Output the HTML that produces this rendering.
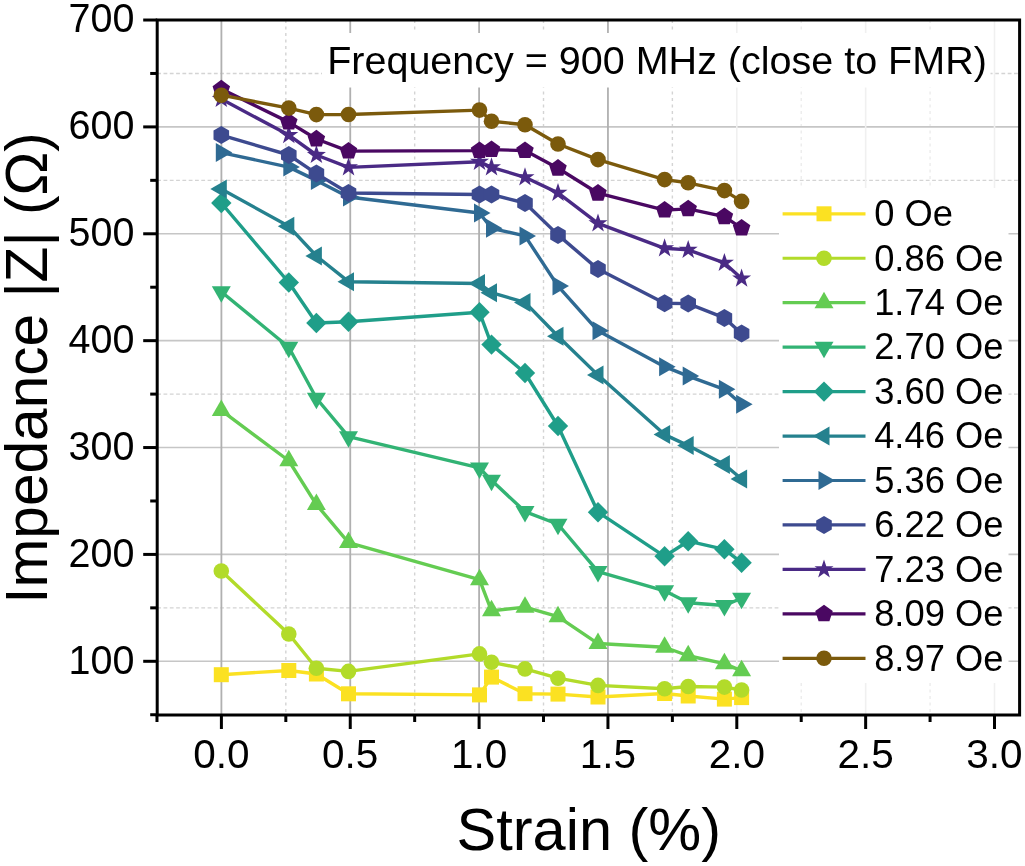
<!DOCTYPE html>
<html><head><meta charset="utf-8"><title>Impedance vs Strain</title>
<style>html,body{margin:0;padding:0;background:#fff;}svg{display:block;will-change:transform;}text{font-family:"Liberation Sans",sans-serif;fill:#000;}</style></head><body>
<svg width="1025" height="866" viewBox="0 0 1025 866">
<rect width="1025" height="866" fill="#fff"/>
<line x1="157.2" y1="73.46" x2="1019.6" y2="73.46" stroke="#d4d4d4" stroke-width="1.4" stroke-dasharray="3.8 2.5"/>
<line x1="157.2" y1="180.34" x2="1019.6" y2="180.34" stroke="#d4d4d4" stroke-width="1.4" stroke-dasharray="3.8 2.5"/>
<line x1="157.2" y1="394.10" x2="1019.6" y2="394.10" stroke="#d4d4d4" stroke-width="1.4" stroke-dasharray="3.8 2.5"/>
<line x1="157.2" y1="607.86" x2="1019.6" y2="607.86" stroke="#d4d4d4" stroke-width="1.4" stroke-dasharray="3.8 2.5"/>
<line x1="285.82" y1="20.0" x2="285.82" y2="715.0" stroke="#d4d4d4" stroke-width="1.4" stroke-dasharray="3 3.5"/>
<line x1="414.67" y1="20.0" x2="414.67" y2="715.0" stroke="#d4d4d4" stroke-width="1.4" stroke-dasharray="3 3.5"/>
<line x1="543.52" y1="20.0" x2="543.52" y2="715.0" stroke="#d4d4d4" stroke-width="1.4" stroke-dasharray="3 3.5"/>
<line x1="672.38" y1="20.0" x2="672.38" y2="715.0" stroke="#d4d4d4" stroke-width="1.4" stroke-dasharray="3 3.5"/>
<line x1="801.22" y1="20.0" x2="801.22" y2="715.0" stroke="#ececec" stroke-width="1.4" stroke-dasharray="3 3.5"/>
<line x1="930.07" y1="20.0" x2="930.07" y2="715.0" stroke="#ececec" stroke-width="1.4" stroke-dasharray="3 3.5"/>
<line x1="157.2" y1="661.30" x2="1019.6" y2="661.30" stroke="#c6c6c6" stroke-width="1.6"/>
<line x1="157.2" y1="554.42" x2="1019.6" y2="554.42" stroke="#c6c6c6" stroke-width="1.6"/>
<line x1="157.2" y1="447.54" x2="1019.6" y2="447.54" stroke="#c6c6c6" stroke-width="1.6"/>
<line x1="157.2" y1="340.66" x2="1019.6" y2="340.66" stroke="#c6c6c6" stroke-width="1.6"/>
<line x1="157.2" y1="233.78" x2="1019.6" y2="233.78" stroke="#c6c6c6" stroke-width="1.6"/>
<line x1="157.2" y1="126.90" x2="1019.6" y2="126.90" stroke="#c6c6c6" stroke-width="1.6"/>
<line x1="221.40" y1="20.0" x2="221.40" y2="715.0" stroke="#b0b0b0" stroke-width="1.8"/>
<line x1="350.25" y1="20.0" x2="350.25" y2="715.0" stroke="#b0b0b0" stroke-width="1.8"/>
<line x1="479.10" y1="20.0" x2="479.10" y2="715.0" stroke="#b0b0b0" stroke-width="1.8"/>
<line x1="607.95" y1="20.0" x2="607.95" y2="715.0" stroke="#b0b0b0" stroke-width="1.8"/>
<line x1="736.80" y1="20.0" x2="736.80" y2="715.0" stroke="#f0f0f0" stroke-width="1.6"/>
<line x1="865.65" y1="20.0" x2="865.65" y2="715.0" stroke="#f0f0f0" stroke-width="1.6"/>
<line x1="994.50" y1="20.0" x2="994.50" y2="715.0" stroke="#f0f0f0" stroke-width="1.6"/>
<rect x="322" y="33" width="668.5" height="54.5" fill="#fff"/>
<text x="327.2" y="73.6" font-size="39.5">Frequency = 900 MHz (close to FMR)</text>
<polyline points="221.30,674.70 288.80,670.50 316.40,674.00 348.50,693.80 479.50,694.90 491.50,677.10 525.00,693.70 558.00,694.10 598.00,697.00 664.60,693.50 688.20,696.00 724.40,699.10 741.60,697.60" fill="none" stroke="#fbe122" stroke-width="3.4" stroke-linejoin="round"/>
<rect x="213.80" y="667.20" width="15.0" height="15.0" fill="#fbe122"/>
<rect x="281.30" y="663.00" width="15.0" height="15.0" fill="#fbe122"/>
<rect x="308.90" y="666.50" width="15.0" height="15.0" fill="#fbe122"/>
<rect x="341.00" y="686.30" width="15.0" height="15.0" fill="#fbe122"/>
<rect x="472.00" y="687.40" width="15.0" height="15.0" fill="#fbe122"/>
<rect x="484.00" y="669.60" width="15.0" height="15.0" fill="#fbe122"/>
<rect x="517.50" y="686.20" width="15.0" height="15.0" fill="#fbe122"/>
<rect x="550.50" y="686.60" width="15.0" height="15.0" fill="#fbe122"/>
<rect x="590.50" y="689.50" width="15.0" height="15.0" fill="#fbe122"/>
<rect x="657.10" y="686.00" width="15.0" height="15.0" fill="#fbe122"/>
<rect x="680.70" y="688.50" width="15.0" height="15.0" fill="#fbe122"/>
<rect x="716.90" y="691.60" width="15.0" height="15.0" fill="#fbe122"/>
<rect x="734.10" y="690.10" width="15.0" height="15.0" fill="#fbe122"/>
<polyline points="221.30,571.00 288.80,634.00 316.40,668.20 348.50,671.40 479.50,653.90 491.50,662.30 525.00,668.90 558.00,678.20 598.00,685.40 664.60,688.70 688.20,686.50 724.40,687.10 741.60,690.00" fill="none" stroke="#b2db2a" stroke-width="3.4" stroke-linejoin="round"/>
<circle cx="221.30" cy="571.00" r="7.8" fill="#b2db2a"/>
<circle cx="288.80" cy="634.00" r="7.8" fill="#b2db2a"/>
<circle cx="316.40" cy="668.20" r="7.8" fill="#b2db2a"/>
<circle cx="348.50" cy="671.40" r="7.8" fill="#b2db2a"/>
<circle cx="479.50" cy="653.90" r="7.8" fill="#b2db2a"/>
<circle cx="491.50" cy="662.30" r="7.8" fill="#b2db2a"/>
<circle cx="525.00" cy="668.90" r="7.8" fill="#b2db2a"/>
<circle cx="558.00" cy="678.20" r="7.8" fill="#b2db2a"/>
<circle cx="598.00" cy="685.40" r="7.8" fill="#b2db2a"/>
<circle cx="664.60" cy="688.70" r="7.8" fill="#b2db2a"/>
<circle cx="688.20" cy="686.50" r="7.8" fill="#b2db2a"/>
<circle cx="724.40" cy="687.10" r="7.8" fill="#b2db2a"/>
<circle cx="741.60" cy="690.00" r="7.8" fill="#b2db2a"/>
<polyline points="221.30,410.45 288.80,460.75 316.40,504.55 348.50,542.55 479.50,579.65 491.50,610.85 525.00,607.15 558.00,616.65 598.00,643.55 664.60,647.25 688.20,655.75 724.40,663.65 741.60,670.85" fill="none" stroke="#64cc52" stroke-width="3.4" stroke-linejoin="round"/>
<polygon points="221.30,399.45 230.80,415.95 211.80,415.95" fill="#64cc52"/>
<polygon points="288.80,449.75 298.30,466.25 279.30,466.25" fill="#64cc52"/>
<polygon points="316.40,493.55 325.90,510.05 306.90,510.05" fill="#64cc52"/>
<polygon points="348.50,531.55 358.00,548.05 339.00,548.05" fill="#64cc52"/>
<polygon points="479.50,568.65 489.00,585.15 470.00,585.15" fill="#64cc52"/>
<polygon points="491.50,599.85 501.00,616.35 482.00,616.35" fill="#64cc52"/>
<polygon points="525.00,596.15 534.50,612.65 515.50,612.65" fill="#64cc52"/>
<polygon points="558.00,605.65 567.50,622.15 548.50,622.15" fill="#64cc52"/>
<polygon points="598.00,632.55 607.50,649.05 588.50,649.05" fill="#64cc52"/>
<polygon points="664.60,636.25 674.10,652.75 655.10,652.75" fill="#64cc52"/>
<polygon points="688.20,644.75 697.70,661.25 678.70,661.25" fill="#64cc52"/>
<polygon points="724.40,652.65 733.90,669.15 714.90,669.15" fill="#64cc52"/>
<polygon points="741.60,659.85 751.10,676.35 732.10,676.35" fill="#64cc52"/>
<polyline points="221.30,291.75 288.80,347.25 316.40,398.25 348.50,436.65 479.50,467.95 491.50,480.35 525.00,511.55 558.00,524.25 598.00,571.55 664.60,590.85 688.20,602.75 724.40,605.55 741.60,598.25" fill="none" stroke="#32b374" stroke-width="3.4" stroke-linejoin="round"/>
<polygon points="221.30,302.75 230.80,286.25 211.80,286.25" fill="#32b374"/>
<polygon points="288.80,358.25 298.30,341.75 279.30,341.75" fill="#32b374"/>
<polygon points="316.40,409.25 325.90,392.75 306.90,392.75" fill="#32b374"/>
<polygon points="348.50,447.65 358.00,431.15 339.00,431.15" fill="#32b374"/>
<polygon points="479.50,478.95 489.00,462.45 470.00,462.45" fill="#32b374"/>
<polygon points="491.50,491.35 501.00,474.85 482.00,474.85" fill="#32b374"/>
<polygon points="525.00,522.55 534.50,506.05 515.50,506.05" fill="#32b374"/>
<polygon points="558.00,535.25 567.50,518.75 548.50,518.75" fill="#32b374"/>
<polygon points="598.00,582.55 607.50,566.05 588.50,566.05" fill="#32b374"/>
<polygon points="664.60,601.85 674.10,585.35 655.10,585.35" fill="#32b374"/>
<polygon points="688.20,613.75 697.70,597.25 678.70,597.25" fill="#32b374"/>
<polygon points="724.40,616.55 733.90,600.05 714.90,600.05" fill="#32b374"/>
<polygon points="741.60,609.25 751.10,592.75 732.10,592.75" fill="#32b374"/>
<polyline points="221.30,203.00 288.80,282.50 316.40,323.00 348.50,321.70 479.50,312.30 491.50,344.60 525.00,373.00 558.00,426.00 598.00,512.20 664.60,556.30 688.20,541.20 724.40,549.30 741.60,562.70" fill="none" stroke="#1f9e89" stroke-width="3.4" stroke-linejoin="round"/>
<polygon points="221.30,192.80 231.50,203.00 221.30,213.20 211.10,203.00" fill="#1f9e89"/>
<polygon points="288.80,272.30 299.00,282.50 288.80,292.70 278.60,282.50" fill="#1f9e89"/>
<polygon points="316.40,312.80 326.60,323.00 316.40,333.20 306.20,323.00" fill="#1f9e89"/>
<polygon points="348.50,311.50 358.70,321.70 348.50,331.90 338.30,321.70" fill="#1f9e89"/>
<polygon points="479.50,302.10 489.70,312.30 479.50,322.50 469.30,312.30" fill="#1f9e89"/>
<polygon points="491.50,334.40 501.70,344.60 491.50,354.80 481.30,344.60" fill="#1f9e89"/>
<polygon points="525.00,362.80 535.20,373.00 525.00,383.20 514.80,373.00" fill="#1f9e89"/>
<polygon points="558.00,415.80 568.20,426.00 558.00,436.20 547.80,426.00" fill="#1f9e89"/>
<polygon points="598.00,502.00 608.20,512.20 598.00,522.40 587.80,512.20" fill="#1f9e89"/>
<polygon points="664.60,546.10 674.80,556.30 664.60,566.50 654.40,556.30" fill="#1f9e89"/>
<polygon points="688.20,531.00 698.40,541.20 688.20,551.40 678.00,541.20" fill="#1f9e89"/>
<polygon points="724.40,539.10 734.60,549.30 724.40,559.50 714.20,549.30" fill="#1f9e89"/>
<polygon points="741.60,552.50 751.80,562.70 741.60,572.90 731.40,562.70" fill="#1f9e89"/>
<polyline points="221.30,189.00 288.80,226.30 316.40,256.00 348.50,281.70 479.50,283.50 491.50,292.70 525.00,302.40 558.00,336.20 598.00,375.10 664.60,434.60 688.20,445.60 724.40,464.50 741.60,479.00" fill="none" stroke="#25818e" stroke-width="3.4" stroke-linejoin="round"/>
<polygon points="210.30,189.00 226.80,179.50 226.80,198.50" fill="#25818e"/>
<polygon points="277.80,226.30 294.30,216.80 294.30,235.80" fill="#25818e"/>
<polygon points="305.40,256.00 321.90,246.50 321.90,265.50" fill="#25818e"/>
<polygon points="337.50,281.70 354.00,272.20 354.00,291.20" fill="#25818e"/>
<polygon points="468.50,283.50 485.00,274.00 485.00,293.00" fill="#25818e"/>
<polygon points="480.50,292.70 497.00,283.20 497.00,302.20" fill="#25818e"/>
<polygon points="514.00,302.40 530.50,292.90 530.50,311.90" fill="#25818e"/>
<polygon points="547.00,336.20 563.50,326.70 563.50,345.70" fill="#25818e"/>
<polygon points="587.00,375.10 603.50,365.60 603.50,384.60" fill="#25818e"/>
<polygon points="653.60,434.60 670.10,425.10 670.10,444.10" fill="#25818e"/>
<polygon points="677.20,445.60 693.70,436.10 693.70,455.10" fill="#25818e"/>
<polygon points="713.40,464.50 729.90,455.00 729.90,474.00" fill="#25818e"/>
<polygon points="730.60,479.00 747.10,469.50 747.10,488.50" fill="#25818e"/>
<polyline points="221.30,152.60 288.80,167.10 316.40,180.40 348.50,197.00 479.50,213.00 491.50,228.30 525.00,235.90 558.00,286.10 598.00,330.80 664.60,366.70 688.20,376.10 724.40,389.30 741.60,404.20" fill="none" stroke="#2f6a93" stroke-width="3.4" stroke-linejoin="round"/>
<polygon points="232.30,152.60 215.80,143.10 215.80,162.10" fill="#2f6a93"/>
<polygon points="299.80,167.10 283.30,157.60 283.30,176.60" fill="#2f6a93"/>
<polygon points="327.40,180.40 310.90,170.90 310.90,189.90" fill="#2f6a93"/>
<polygon points="359.50,197.00 343.00,187.50 343.00,206.50" fill="#2f6a93"/>
<polygon points="490.50,213.00 474.00,203.50 474.00,222.50" fill="#2f6a93"/>
<polygon points="502.50,228.30 486.00,218.80 486.00,237.80" fill="#2f6a93"/>
<polygon points="536.00,235.90 519.50,226.40 519.50,245.40" fill="#2f6a93"/>
<polygon points="569.00,286.10 552.50,276.60 552.50,295.60" fill="#2f6a93"/>
<polygon points="609.00,330.80 592.50,321.30 592.50,340.30" fill="#2f6a93"/>
<polygon points="675.60,366.70 659.10,357.20 659.10,376.20" fill="#2f6a93"/>
<polygon points="699.20,376.10 682.70,366.60 682.70,385.60" fill="#2f6a93"/>
<polygon points="735.40,389.30 718.90,379.80 718.90,398.80" fill="#2f6a93"/>
<polygon points="752.60,404.20 736.10,394.70 736.10,413.70" fill="#2f6a93"/>
<polyline points="221.30,135.10 288.80,155.00 316.40,173.60 348.50,193.00 479.50,194.50 491.50,194.50 525.00,203.00 558.00,234.90 598.00,269.10 664.60,303.30 688.20,303.60 724.40,317.90 741.60,333.60" fill="none" stroke="#3d4a8f" stroke-width="3.4" stroke-linejoin="round"/>
<polygon points="221.30,126.10 229.09,130.60 229.09,139.60 221.30,144.10 213.51,139.60 213.51,130.60" fill="#3d4a8f"/>
<polygon points="288.80,146.00 296.59,150.50 296.59,159.50 288.80,164.00 281.01,159.50 281.01,150.50" fill="#3d4a8f"/>
<polygon points="316.40,164.60 324.19,169.10 324.19,178.10 316.40,182.60 308.61,178.10 308.61,169.10" fill="#3d4a8f"/>
<polygon points="348.50,184.00 356.29,188.50 356.29,197.50 348.50,202.00 340.71,197.50 340.71,188.50" fill="#3d4a8f"/>
<polygon points="479.50,185.50 487.29,190.00 487.29,199.00 479.50,203.50 471.71,199.00 471.71,190.00" fill="#3d4a8f"/>
<polygon points="491.50,185.50 499.29,190.00 499.29,199.00 491.50,203.50 483.71,199.00 483.71,190.00" fill="#3d4a8f"/>
<polygon points="525.00,194.00 532.79,198.50 532.79,207.50 525.00,212.00 517.21,207.50 517.21,198.50" fill="#3d4a8f"/>
<polygon points="558.00,225.90 565.79,230.40 565.79,239.40 558.00,243.90 550.21,239.40 550.21,230.40" fill="#3d4a8f"/>
<polygon points="598.00,260.10 605.79,264.60 605.79,273.60 598.00,278.10 590.21,273.60 590.21,264.60" fill="#3d4a8f"/>
<polygon points="664.60,294.30 672.39,298.80 672.39,307.80 664.60,312.30 656.81,307.80 656.81,298.80" fill="#3d4a8f"/>
<polygon points="688.20,294.60 695.99,299.10 695.99,308.10 688.20,312.60 680.41,308.10 680.41,299.10" fill="#3d4a8f"/>
<polygon points="724.40,308.90 732.19,313.40 732.19,322.40 724.40,326.90 716.61,322.40 716.61,313.40" fill="#3d4a8f"/>
<polygon points="741.60,324.60 749.39,329.10 749.39,338.10 741.60,342.60 733.81,338.10 733.81,329.10" fill="#3d4a8f"/>
<polyline points="221.30,99.00 288.80,135.10 316.40,155.00 348.50,167.40 479.50,161.80 491.50,167.30 525.00,177.30 558.00,192.90 598.00,223.40 664.60,248.30 688.20,249.90 724.40,262.90 741.60,278.60" fill="none" stroke="#4a2a85" stroke-width="3.4" stroke-linejoin="round"/>
<polygon points="221.30,89.00 223.59,95.84 230.81,95.91 225.01,100.21 227.18,107.09 221.30,102.90 215.42,107.09 217.59,100.21 211.79,95.91 219.01,95.84" fill="#4a2a85"/>
<polygon points="288.80,125.10 291.09,131.94 298.31,132.01 292.51,136.31 294.68,143.19 288.80,139.00 282.92,143.19 285.09,136.31 279.29,132.01 286.51,131.94" fill="#4a2a85"/>
<polygon points="316.40,145.00 318.69,151.84 325.91,151.91 320.11,156.21 322.28,163.09 316.40,158.90 310.52,163.09 312.69,156.21 306.89,151.91 314.11,151.84" fill="#4a2a85"/>
<polygon points="348.50,157.40 350.79,164.24 358.01,164.31 352.21,168.61 354.38,175.49 348.50,171.30 342.62,175.49 344.79,168.61 338.99,164.31 346.21,164.24" fill="#4a2a85"/>
<polygon points="479.50,151.80 481.79,158.64 489.01,158.71 483.21,163.01 485.38,169.89 479.50,165.70 473.62,169.89 475.79,163.01 469.99,158.71 477.21,158.64" fill="#4a2a85"/>
<polygon points="491.50,157.30 493.79,164.14 501.01,164.21 495.21,168.51 497.38,175.39 491.50,171.20 485.62,175.39 487.79,168.51 481.99,164.21 489.21,164.14" fill="#4a2a85"/>
<polygon points="525.00,167.30 527.29,174.14 534.51,174.21 528.71,178.51 530.88,185.39 525.00,181.20 519.12,185.39 521.29,178.51 515.49,174.21 522.71,174.14" fill="#4a2a85"/>
<polygon points="558.00,182.90 560.29,189.74 567.51,189.81 561.71,194.11 563.88,200.99 558.00,196.80 552.12,200.99 554.29,194.11 548.49,189.81 555.71,189.74" fill="#4a2a85"/>
<polygon points="598.00,213.40 600.29,220.24 607.51,220.31 601.71,224.61 603.88,231.49 598.00,227.30 592.12,231.49 594.29,224.61 588.49,220.31 595.71,220.24" fill="#4a2a85"/>
<polygon points="664.60,238.30 666.89,245.14 674.11,245.21 668.31,249.51 670.48,256.39 664.60,252.20 658.72,256.39 660.89,249.51 655.09,245.21 662.31,245.14" fill="#4a2a85"/>
<polygon points="688.20,239.90 690.49,246.74 697.71,246.81 691.91,251.11 694.08,257.99 688.20,253.80 682.32,257.99 684.49,251.11 678.69,246.81 685.91,246.74" fill="#4a2a85"/>
<polygon points="724.40,252.90 726.69,259.74 733.91,259.81 728.11,264.11 730.28,270.99 724.40,266.80 718.52,270.99 720.69,264.11 714.89,259.81 722.11,259.74" fill="#4a2a85"/>
<polygon points="741.60,268.60 743.89,275.44 751.11,275.51 745.31,279.81 747.48,286.69 741.60,282.50 735.72,286.69 737.89,279.81 732.09,275.51 739.31,275.44" fill="#4a2a85"/>
<polyline points="221.30,89.00 288.80,122.10 316.40,139.00 348.50,151.10 479.50,150.60 491.50,149.60 525.00,150.60 558.00,168.30 598.00,193.20 664.60,210.10 688.20,208.90 724.40,216.70 741.60,228.10" fill="none" stroke="#4a0862" stroke-width="3.4" stroke-linejoin="round"/>
<polygon points="221.30,79.80 230.05,86.16 226.71,96.44 215.89,96.44 212.55,86.16" fill="#4a0862"/>
<polygon points="288.80,112.90 297.55,119.26 294.21,129.54 283.39,129.54 280.05,119.26" fill="#4a0862"/>
<polygon points="316.40,129.80 325.15,136.16 321.81,146.44 310.99,146.44 307.65,136.16" fill="#4a0862"/>
<polygon points="348.50,141.90 357.25,148.26 353.91,158.54 343.09,158.54 339.75,148.26" fill="#4a0862"/>
<polygon points="479.50,141.40 488.25,147.76 484.91,158.04 474.09,158.04 470.75,147.76" fill="#4a0862"/>
<polygon points="491.50,140.40 500.25,146.76 496.91,157.04 486.09,157.04 482.75,146.76" fill="#4a0862"/>
<polygon points="525.00,141.40 533.75,147.76 530.41,158.04 519.59,158.04 516.25,147.76" fill="#4a0862"/>
<polygon points="558.00,159.10 566.75,165.46 563.41,175.74 552.59,175.74 549.25,165.46" fill="#4a0862"/>
<polygon points="598.00,184.00 606.75,190.36 603.41,200.64 592.59,200.64 589.25,190.36" fill="#4a0862"/>
<polygon points="664.60,200.90 673.35,207.26 670.01,217.54 659.19,217.54 655.85,207.26" fill="#4a0862"/>
<polygon points="688.20,199.70 696.95,206.06 693.61,216.34 682.79,216.34 679.45,206.06" fill="#4a0862"/>
<polygon points="724.40,207.50 733.15,213.86 729.81,224.14 718.99,224.14 715.65,213.86" fill="#4a0862"/>
<polygon points="741.60,218.90 750.35,225.26 747.01,235.54 736.19,235.54 732.85,225.26" fill="#4a0862"/>
<polyline points="221.30,95.20 288.80,108.10 316.40,114.60 348.50,114.50 479.50,110.10 491.50,121.20 525.00,124.70 558.00,144.00 598.00,159.60 664.60,179.60 688.20,182.80 724.40,190.60 741.60,201.40" fill="none" stroke="#7b5a0c" stroke-width="3.4" stroke-linejoin="round"/>
<circle cx="221.30" cy="95.20" r="7.8" fill="#7b5a0c"/>
<circle cx="288.80" cy="108.10" r="7.8" fill="#7b5a0c"/>
<circle cx="316.40" cy="114.60" r="7.8" fill="#7b5a0c"/>
<circle cx="348.50" cy="114.50" r="7.8" fill="#7b5a0c"/>
<circle cx="479.50" cy="110.10" r="7.8" fill="#7b5a0c"/>
<circle cx="491.50" cy="121.20" r="7.8" fill="#7b5a0c"/>
<circle cx="525.00" cy="124.70" r="7.8" fill="#7b5a0c"/>
<circle cx="558.00" cy="144.00" r="7.8" fill="#7b5a0c"/>
<circle cx="598.00" cy="159.60" r="7.8" fill="#7b5a0c"/>
<circle cx="664.60" cy="179.60" r="7.8" fill="#7b5a0c"/>
<circle cx="688.20" cy="182.80" r="7.8" fill="#7b5a0c"/>
<circle cx="724.40" cy="190.60" r="7.8" fill="#7b5a0c"/>
<circle cx="741.60" cy="201.40" r="7.8" fill="#7b5a0c"/>
<rect x="779" y="188" width="229.5" height="495" fill="#fff"/>
<line x1="782.6" y1="213.80" x2="865.5" y2="213.80" stroke="#fbe122" stroke-width="3.2"/>
<rect x="816.50" y="206.30" width="15.0" height="15.0" fill="#fbe122"/>
<text x="874.2" y="226.10" font-size="36.3">0 Oe</text>
<line x1="782.6" y1="258.25" x2="865.5" y2="258.25" stroke="#b2db2a" stroke-width="3.2"/>
<circle cx="824.00" cy="258.25" r="7.8" fill="#b2db2a"/>
<text x="874.2" y="270.55" font-size="36.3">0.86 Oe</text>
<line x1="782.6" y1="302.70" x2="865.5" y2="302.70" stroke="#64cc52" stroke-width="3.2"/>
<polygon points="824.00,291.70 833.50,308.20 814.50,308.20" fill="#64cc52"/>
<text x="874.2" y="315.00" font-size="36.3">1.74 Oe</text>
<line x1="782.6" y1="347.15" x2="865.5" y2="347.15" stroke="#32b374" stroke-width="3.2"/>
<polygon points="824.00,358.15 833.50,341.65 814.50,341.65" fill="#32b374"/>
<text x="874.2" y="359.45" font-size="36.3">2.70 Oe</text>
<line x1="782.6" y1="391.60" x2="865.5" y2="391.60" stroke="#1f9e89" stroke-width="3.2"/>
<polygon points="824.00,381.40 834.20,391.60 824.00,401.80 813.80,391.60" fill="#1f9e89"/>
<text x="874.2" y="403.90" font-size="36.3">3.60 Oe</text>
<line x1="782.6" y1="436.05" x2="865.5" y2="436.05" stroke="#25818e" stroke-width="3.2"/>
<polygon points="813.00,436.05 829.50,426.55 829.50,445.55" fill="#25818e"/>
<text x="874.2" y="448.35" font-size="36.3">4.46 Oe</text>
<line x1="782.6" y1="480.50" x2="865.5" y2="480.50" stroke="#2f6a93" stroke-width="3.2"/>
<polygon points="835.00,480.50 818.50,471.00 818.50,490.00" fill="#2f6a93"/>
<text x="874.2" y="492.80" font-size="36.3">5.36 Oe</text>
<line x1="782.6" y1="524.95" x2="865.5" y2="524.95" stroke="#3d4a8f" stroke-width="3.2"/>
<polygon points="824.00,515.95 831.79,520.45 831.79,529.45 824.00,533.95 816.21,529.45 816.21,520.45" fill="#3d4a8f"/>
<text x="874.2" y="537.25" font-size="36.3">6.22 Oe</text>
<line x1="782.6" y1="569.40" x2="865.5" y2="569.40" stroke="#4a2a85" stroke-width="3.2"/>
<polygon points="824.00,559.40 826.29,566.24 833.51,566.31 827.71,570.61 829.88,577.49 824.00,573.30 818.12,577.49 820.29,570.61 814.49,566.31 821.71,566.24" fill="#4a2a85"/>
<text x="874.2" y="581.70" font-size="36.3">7.23 Oe</text>
<line x1="782.6" y1="613.85" x2="865.5" y2="613.85" stroke="#4a0862" stroke-width="3.2"/>
<polygon points="824.00,604.65 832.75,611.01 829.41,621.29 818.59,621.29 815.25,611.01" fill="#4a0862"/>
<text x="874.2" y="626.15" font-size="36.3">8.09 Oe</text>
<line x1="782.6" y1="658.30" x2="865.5" y2="658.30" stroke="#7b5a0c" stroke-width="3.2"/>
<circle cx="824.00" cy="658.30" r="7.8" fill="#7b5a0c"/>
<text x="874.2" y="670.60" font-size="36.3">8.97 Oe</text>
<g stroke="#000" stroke-width="3" fill="none" stroke-linecap="butt">
<rect x="157.2" y="20.0" width="862.40" height="695.00"/>
<line x1="143.20" y1="661.30" x2="157.2" y2="661.30"/>
<line x1="143.20" y1="554.42" x2="157.2" y2="554.42"/>
<line x1="143.20" y1="447.54" x2="157.2" y2="447.54"/>
<line x1="143.20" y1="340.66" x2="157.2" y2="340.66"/>
<line x1="143.20" y1="233.78" x2="157.2" y2="233.78"/>
<line x1="143.20" y1="126.90" x2="157.2" y2="126.90"/>
<line x1="143.20" y1="20.02" x2="157.2" y2="20.02"/>
<line x1="150.20" y1="714.74" x2="157.2" y2="714.74"/>
<line x1="150.20" y1="607.86" x2="157.2" y2="607.86"/>
<line x1="150.20" y1="500.98" x2="157.2" y2="500.98"/>
<line x1="150.20" y1="394.10" x2="157.2" y2="394.10"/>
<line x1="150.20" y1="287.22" x2="157.2" y2="287.22"/>
<line x1="150.20" y1="180.34" x2="157.2" y2="180.34"/>
<line x1="150.20" y1="73.46" x2="157.2" y2="73.46"/>
<line x1="221.40" y1="715.0" x2="221.40" y2="729.00"/>
<line x1="350.25" y1="715.0" x2="350.25" y2="729.00"/>
<line x1="479.10" y1="715.0" x2="479.10" y2="729.00"/>
<line x1="607.95" y1="715.0" x2="607.95" y2="729.00"/>
<line x1="736.80" y1="715.0" x2="736.80" y2="729.00"/>
<line x1="865.65" y1="715.0" x2="865.65" y2="729.00"/>
<line x1="994.50" y1="715.0" x2="994.50" y2="729.00"/>
<line x1="156.98" y1="715.0" x2="156.98" y2="722.00"/>
<line x1="285.82" y1="715.0" x2="285.82" y2="722.00"/>
<line x1="414.67" y1="715.0" x2="414.67" y2="722.00"/>
<line x1="543.52" y1="715.0" x2="543.52" y2="722.00"/>
<line x1="672.38" y1="715.0" x2="672.38" y2="722.00"/>
<line x1="801.22" y1="715.0" x2="801.22" y2="722.00"/>
<line x1="930.07" y1="715.0" x2="930.07" y2="722.00"/>
</g>
<text x="134.4" y="673.50" font-size="40.5" text-anchor="end" textLength="65.9" lengthAdjust="spacingAndGlyphs">100</text>
<text x="134.4" y="566.62" font-size="40.5" text-anchor="end" textLength="65.9" lengthAdjust="spacingAndGlyphs">200</text>
<text x="134.4" y="459.74" font-size="40.5" text-anchor="end" textLength="65.9" lengthAdjust="spacingAndGlyphs">300</text>
<text x="134.4" y="352.86" font-size="40.5" text-anchor="end" textLength="65.9" lengthAdjust="spacingAndGlyphs">400</text>
<text x="134.4" y="245.98" font-size="40.5" text-anchor="end" textLength="65.9" lengthAdjust="spacingAndGlyphs">500</text>
<text x="134.4" y="139.10" font-size="40.5" text-anchor="end" textLength="65.9" lengthAdjust="spacingAndGlyphs">600</text>
<text x="134.4" y="32.22" font-size="40.5" text-anchor="end" textLength="65.9" lengthAdjust="spacingAndGlyphs">700</text>
<text x="221.40" y="768.4" font-size="40.5" text-anchor="middle">0.0</text>
<text x="350.25" y="768.4" font-size="40.5" text-anchor="middle">0.5</text>
<text x="479.10" y="768.4" font-size="40.5" text-anchor="middle">1.0</text>
<text x="607.95" y="768.4" font-size="40.5" text-anchor="middle">1.5</text>
<text x="736.80" y="768.4" font-size="40.5" text-anchor="middle">2.0</text>
<text x="865.65" y="768.4" font-size="40.5" text-anchor="middle">2.5</text>
<text x="994.50" y="768.4" font-size="40.5" text-anchor="middle">3.0</text>
<text x="456.6" y="850" font-size="59.5">Strain (%)</text>
<text transform="translate(47.2,603.8) rotate(-90)" x="0" y="0" font-size="58.6">Impedance |Z| (&#937;)</text>
</svg></body></html>
